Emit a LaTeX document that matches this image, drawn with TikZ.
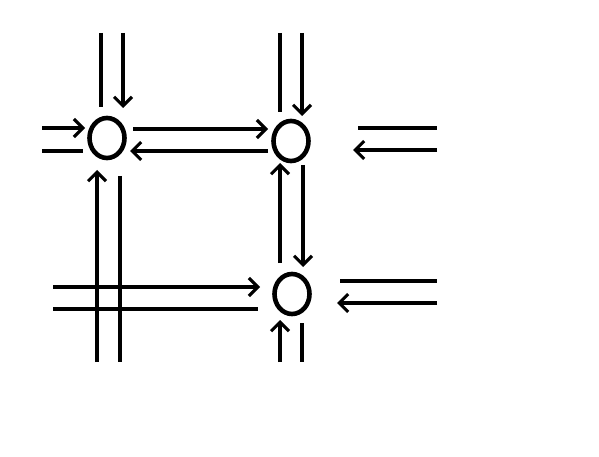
\documentclass[tikz,border=0pt]{standalone}
\usetikzlibrary{arrows.meta,shapes.geometric,calc}

\begin{document}
\begin{tikzpicture}[x=1pt, y=-1pt, line width=3.1pt,
        junction/.style={ellipse, draw, line width=4.6pt, minimum width=35pt, minimum height=40pt, inner sep=0pt},
        road/.style={-{Straight Barb[length=9pt, width=18pt]}}]
        \useasboundingbox (0,0) rectangle (599,457);

        \node[junction] (A) at (107,138) {};
        \node[junction] (B) at (291,141) {};
        \node[junction] (C) at (292,294) {};

        % around A
        \draw ($(A)+(-6,-105)$) -- ($(A)+(-6,-31)$);
        \draw[road] ($(A)+(16,-105)$) -- ($(A)+(16,-30)$);
        \draw[road] ($(A)+(-65,-10)$) -- ($(A)+(-22,-10)$);
        \draw ($(A)+(-65,13)$) -- ($(A)+(-24,13)$);
        \draw[road] ($(A)+(-10,224)$) -- ($(A)+(-10,32)$);
        \draw ($(A)+(13,38)$) -- ($(A)+(13,224)$);

        % A -- B
        \draw[road] ($(A)+(26,-9)$) -- ($(B)+(-23,-12)$);
        \draw[road] ($(B)+(-23,10)$) -- ($(A)+(23,13)$);

        % around B
        \draw ($(B)+(-11,-108)$) -- ($(B)+(-11,-29)$);
        \draw[road] ($(B)+(11,-108)$) -- ($(B)+(11,-25)$);
        \draw ($(B)+(67,-13)$) -- ($(B)+(146,-13)$);
        \draw[road] ($(B)+(146,9)$) -- ($(B)+(62,9)$);

        % B -- C
        \draw[road] ($(C)+(-12,-31)$) -- ($(B)+(-11,22)$);
        \draw[road] ($(B)+(12,24)$) -- ($(C)+(11,-27)$);

        % around C
        \draw ($(C)+(48,-13)$) -- ($(C)+(145,-13)$);
        \draw[road] ($(C)+(145,9)$) -- ($(C)+(45,9)$);
        \draw[road] ($(C)+(-239,-7)$) -- ($(C)+(-32,-7)$);
        \draw ($(C)+(-239,15)$) -- ($(C)+(-34,15)$);
        \draw[road] ($(C)+(-12,68)$) -- ($(C)+(-12,26)$);
        \draw ($(C)+(10,29)$) -- ($(C)+(10,68)$);
\end{tikzpicture}
\end{document}
